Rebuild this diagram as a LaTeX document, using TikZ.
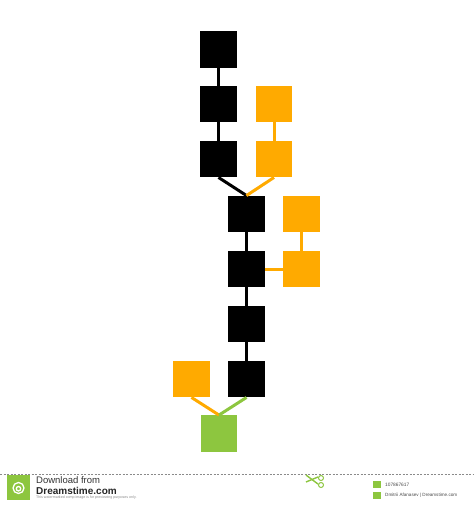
\documentclass[tikz,border=0pt]{standalone}
\usepackage{fontspec}
\setmainfont{Liberation Sans}
\definecolor{blk}{HTML}{000000}
\definecolor{org}{HTML}{FFAA00}
\definecolor{grn}{HTML}{8DC63F}
\definecolor{wmgray}{HTML}{8A8A8A}
\tikzset{
  sq/.style={rectangle, minimum size=36.5pt, inner sep=0pt, draw=none},
  bsq/.style={sq, fill=blk},
  osq/.style={sq, fill=org},
  gsq/.style={sq, fill=grn},
  bl/.style={draw=blk, line width=3pt},
  ol/.style={draw=org, line width=3pt},
  gl/.style={draw=grn, line width=3pt},
  wmtext/.style={inner sep=0pt, anchor=west, text=wmgray},
}
\begin{document}
\begin{tikzpicture}[x=1pt,y=-1pt]
\useasboundingbox (0,0) rectangle (474,506);
\fill[white] (0,0) rectangle (474,506);
% squares
\node[bsq] (B1) at (218.5,49.5) {};
\node[bsq] (B2) at (218.5,104) {};
\node[bsq] (B3) at (218.5,159) {};
\node[osq] (O1) at (274,104) {};
\node[osq] (O2) at (274,159) {};
\node[bsq] (B4) at (246.5,214) {};
\node[osq] (O3) at (301.5,214) {};
\node[bsq] (B5) at (246.5,269) {};
\node[osq] (O4) at (301.5,269) {};
\node[bsq] (B6) at (246.5,324) {};
\node[bsq] (B7) at (246.5,379) {};
\node[osq] (O5) at (191.5,379) {};
\node[gsq] (G) at (219,433.5) {};
% connectors
\draw[bl] (B1.south) -- (B2.north);
\draw[bl] (B2.south) -- (B3.north);
\draw[ol] (O1.south) -- (O2.north);
\draw[bl] (B3.south) -- (B4.north);
\draw[ol] (O2.south) -- (B4.north);
\draw[ol] (O3.south) -- (O4.north);
\draw[bl] (B4.south) -- (B5.north);
\draw[ol] (B5.east) -- (O4.west);
\draw[bl] (B5.south) -- (B6.north);
\draw[bl] (B6.south) -- (B7.north);
\draw[ol] (O5.south) -- (G.north);
\draw[gl] (B7.south) -- (G.north);
% watermark bar
\coordinate (DL) at (0,474.5);
\coordinate (DR) at (474,474.5);
\draw[wmgray, line width=0.7pt, dash pattern=on 2pt off 1.5pt] (DL) -- (DR);
\node[rectangle, fill=grn, minimum width=23pt, minimum height=25pt, inner sep=0pt] (logo) at (18.5,487.5) {};
\draw[white, line width=1.3pt] (logo.center) ++(0,1.2) circle (2.2pt);
\draw[white, line width=1.3pt] (logo.center) ++(0,0.5) circle (5.5pt);
\node[wmtext, text=black!80, font=\fontsize{9.5}{10}\selectfont] (dl) at (36,480.5) {Download from};
\node[wmtext, text=black!85, font=\bfseries\fontsize{10}{11}\selectfont] (ds) at (36,490.5) {Dreamstime.com};
\node[wmtext, font=\fontsize{3.6}{4}\selectfont] (wm) at (36,498) {This watermarked comp image is for previewing purposes only.};
% scissors
\coordinate (sc1) at (306,475);
\coordinate (sc2) at (318,484);
\coordinate (sc3) at (306,482);
\coordinate (sc4) at (318,477);
\draw[grn, line width=1.4pt] (sc1) -- (sc2);
\draw[grn, line width=1.4pt] (sc3) -- (sc4);
\draw[grn, line width=1pt] (321,478) circle (2.5pt);
\draw[grn, line width=1pt] (321,485) circle (2.5pt);
% right info
\node[rectangle, fill=grn, minimum size=7.5pt, inner sep=0pt] (ic1) at (377,484.5) {};
\node[rectangle, fill=grn, minimum size=7.5pt, inner sep=0pt] (ic2) at (377,495.5) {};
\node[wmtext, text=black!70, font=\fontsize{4.8}{5}\selectfont] (id) at (385,484.5) {107867617};
\node[wmtext, text=black!70, font=\fontsize{4.6}{5}\selectfont] (au) at (385,495.5) {Dmitrii Afanasev | Dreamstime.com};
\end{tikzpicture}
\end{document}
